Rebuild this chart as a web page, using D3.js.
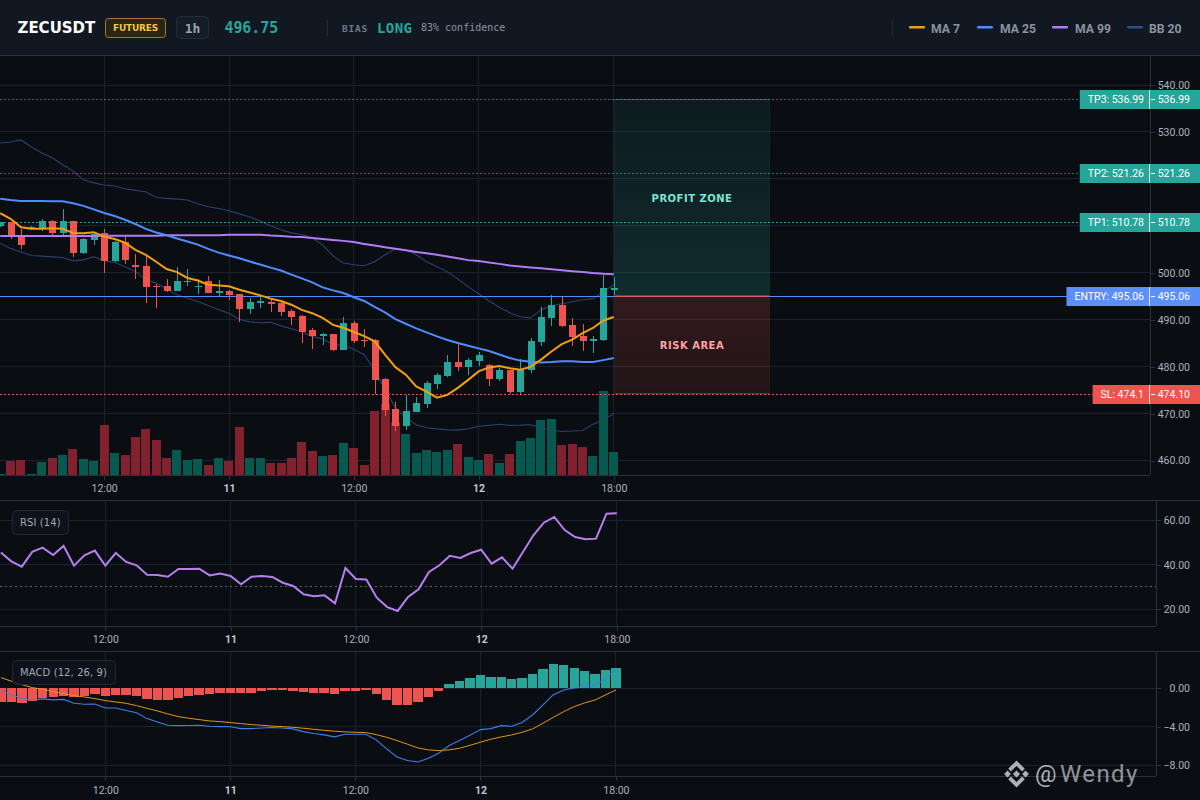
<!DOCTYPE html>
<html>
<head>
<meta charset="utf-8">
<script src="https://d3js.org/d3.v7.min.js"></script>
<style>
html,body{margin:0;padding:0;background:#0a0d12;overflow:hidden}
svg{display:block}
text{font-family:Roboto,sans-serif}
.mono{font-family:"DejaVu Sans Mono",monospace}
.dv{font-family:"DejaVu Sans",sans-serif}
</style>
</head>
<body>
<svg id="c" width="1200" height="800"></svg>
<script>
const symbol="ZECUSDT", badge="FUTURES", timeframe="1h", lastPrice="496.75";
const biasLabel="BIAS", biasValue="LONG", biasConf="83% confidence";
const legendNames=["MA 7","MA 25","MA 99","BB 20"];
const legendColors=["#f59e0b","#4f8cff","#b07cf5","#2d4f8e"];

const opens =[510.0,510.85,508.1,509.4,509.6,511.06,508.5,511.06,504.25,507.0,508.5,502.55,506.6,501.7,501.5,497.25,497.25,496.2,498.1,497.0,498.3,495.75,496.2,495.5,492.35,493.6,493.8,493.6,491.9,490.85,487.9,486.6,487.0,483.6,489.35,485.75,485.75,477.45,471.05,467.45,470.4,472.15,476.4,478.1,481.05,480.0,481.3,480.4,477.45,479.35,474.7,479.35,485.3,490.4,493.2,488.95,486.6,485.55,485.75,496.6];
const highs =[510.9,510.9,509.4,510.0,511.5,511.3,513.6,511.1,507.45,508.7,509.4,506.8,508.1,504.0,503.6,497.7,498.7,501.3,500.85,498.7,499.4,498.5,496.3,495.5,494.7,495.1,494.7,493.7,492.35,491.05,488.3,487.25,487.05,490.65,489.8,488.1,485.8,477.5,472.55,474.05,473.6,477.0,478.7,482.55,484.9,481.9,483.2,480.65,479.8,479.4,481.7,486.15,492.75,495.3,495.1,490.4,489.15,486.6,499.6,499.15];
const lows  =[509.8,507.2,505.1,509.15,508.9,508.1,508.1,503.4,504.0,506.0,500.0,502.3,501.9,498.7,493.6,492.55,496.0,496.15,497.2,495.5,495.75,495.1,494.25,489.6,491.3,492.55,491.7,490.85,488.95,485.1,483.8,484.7,483.4,483.6,485.1,484.25,474.25,469.6,466.2,466.6,470.4,471.3,475.3,477.9,479.15,478.3,480.2,475.95,477.0,474.25,474.25,478.7,484.45,488.7,488.5,484.45,483.4,483.0,485.55,495.3];
const closes=[510.85,508.1,506.0,509.8,511.06,508.5,511.06,504.25,507.2,508.3,502.55,506.6,502.75,501.3,497.0,497.0,496.2,498.3,498.3,497.2,495.75,496.2,495.3,492.35,493.8,494.05,493.4,491.7,490.65,487.45,486.6,487.0,483.6,489.35,485.55,485.55,477.2,470.85,467.45,470.65,472.35,476.6,478.3,481.05,480.0,481.5,482.55,477.45,479.35,474.7,479.35,485.55,490.65,493.2,488.7,486.4,485.55,486.0,496.8,496.75];
const volumes=[1.3,14.3,15.3,1.3,13.3,17.3,20.3,26.3,16.3,14.3,50.3,22.3,20.3,38.3,46.3,35.3,17.3,25.3,15.3,16.3,10.3,17.3,14.3,48.3,17.3,17.3,12.3,12.3,17.3,33.3,24.3,19.3,20.3,32.3,27.3,10.3,64.3,71.3,53.6,41.3,22.3,25.3,23.3,25.3,31.3,18.3,15.3,21.3,12.3,21.3,34.3,37.3,55.3,56.3,30.3,31.3,28.3,19.3,84.3,23.3];
const ma7 =[512.7,511.5,509.7,509.4,509.4,509.5,509.4,508.5,508.4,508.65,507.7,507.2,506.4,504.9,503.8,502.35,500.8,500.15,498.9,498.35,497.45,497.3,497.15,496.4,495.8,495.2,494.5,494.0,493.2,492.1,491.4,490.4,488.9,488.3,487.4,486.5,485.4,482.55,479.9,478.3,475.8,474.7,473.4,474.0,475.5,477.2,479.0,479.85,480.15,479.65,479.35,479.95,481.5,483.25,484.8,485.75,487.15,488.25,489.85,490.6];
const ma25=[515.75,515.5,515.3,515.3,515.3,515.25,515.25,514.8,514.25,513.5,512.75,512.1,511.3,510.4,509.35,508.6,508.0,507.3,506.65,506.0,505.1,504.3,503.7,503.1,502.4,501.75,501.1,500.5,499.6,498.8,497.95,496.9,496.25,495.7,494.8,494.0,492.75,491.55,490.15,489.15,488.15,487.3,486.45,485.7,485.05,484.45,483.9,483.35,482.6,481.85,481.3,481.05,480.9,481.0,481.15,481.15,481.0,481.0,481.4,481.85];
const ma99=[507.85,507.85,507.85,507.85,507.85,507.85,507.85,507.85,507.85,507.85,507.9,507.9,507.9,507.9,507.9,507.9,508.0,508.0,508.0,508.0,508.0,508.0,508.1,508.1,508.1,508.1,507.95,507.85,507.7,507.6,507.4,507.2,507.0,506.8,506.55,506.15,505.8,505.45,505.1,504.8,504.45,504.15,503.85,503.45,503.1,502.7,502.5,502.2,501.9,501.55,501.35,501.15,500.95,500.75,500.55,500.35,500.15,499.95,499.8,499.7];
const bbUpper=[527.66,527.87,528.3,526.8,525.5,524.5,523.0,521.7,519.8,519.15,518.7,518.5,517.9,517.55,517.25,516.05,515.85,515.7,515.5,514.7,514.05,513.7,513.2,512.55,511.9,511.05,510.0,509.15,508.5,508.1,507.45,505.95,503.6,502.1,501.7,501.5,502.35,503.85,505.1,504.9,503.85,502.35,501.3,500.2,498.7,497.0,495.55,494.05,492.65,491.5,490.65,490.4,492.15,493.0,493.4,493.85,494.25,494.45,495.95,497.45];
const bbLower=[506.3,505.2,504.45,503.7,503.55,503.4,503.25,502.55,502.75,503.4,502.6,502.2,501.3,500.3,498.5,497.8,496.6,495.3,494.6,493.9,493.05,492.15,491.4,490.1,489.55,489.35,489.45,488.7,488.1,487.45,486.4,485.95,484.7,484.55,483.7,482.55,479.35,475.1,471.3,469.15,467.65,467.0,466.75,466.55,466.5,466.8,467.3,467.5,467.75,467.5,467.55,467.65,467.0,466.5,466.2,466.3,466.4,467.75,468.7,470.0];
const rsiValues=[45.4,41.5,39.1,45.7,47.6,44.3,48.4,39.55,44.2,46.3,39.55,45.2,41.2,39.7,35.5,35.4,34.6,38.05,38.05,38.2,35.2,36.0,34.9,31.2,34.6,34.9,34.5,31.9,30.45,26.7,25.8,26.25,22.7,38.5,33.6,33.4,25.2,21.0,19.25,25.5,28.95,36.7,39.7,44.0,43.0,45.2,46.7,40.45,43.3,38.2,45.7,53.15,58.8,61.35,55.5,52.4,51.35,51.65,62.85,63.0];
const macdLine=[-0.17,-0.7,-1.04,-1.2,-1.1,-1.2,-1.15,-1.55,-1.66,-1.63,-2.04,-2.04,-2.3,-2.53,-3.15,-3.5,-3.84,-3.88,-3.86,-3.84,-3.94,-3.98,-4.0,-4.19,-4.19,-4.12,-4.08,-4.12,-4.22,-4.5,-4.7,-4.84,-5.05,-4.78,-4.78,-4.78,-5.36,-6.3,-7.13,-7.5,-7.65,-7.27,-6.75,-5.95,-5.43,-4.88,-4.29,-4.19,-3.88,-3.94,-3.56,-2.77,-1.73,-0.66,-0.17,0.03,0.14,0.24,1.07,1.9];
const macdSignal=[1.11,0.73,0.38,0.07,-0.1,-0.35,-0.55,-0.76,-0.9,-1.07,-1.28,-1.42,-1.56,-1.8,-2.08,-2.35,-2.66,-2.94,-3.11,-3.25,-3.39,-3.46,-3.56,-3.67,-3.77,-3.84,-3.93,-3.98,-4.05,-4.15,-4.26,-4.36,-4.46,-4.53,-4.57,-4.6,-4.81,-5.09,-5.43,-5.81,-6.19,-6.4,-6.47,-6.4,-6.23,-5.92,-5.6,-5.29,-5.05,-4.84,-4.57,-4.22,-3.63,-3.01,-2.42,-1.9,-1.52,-1.21,-0.69,-0.17];
const macdHist=[-1.38,-1.38,-1.52,-1.35,-1.04,-0.87,-0.76,-0.87,-0.8,-0.59,-0.8,-0.69,-0.69,-0.8,-1.1,-1.2,-1.2,-1.0,-0.8,-0.69,-0.59,-0.48,-0.48,-0.48,-0.48,-0.28,-0.17,-0.17,-0.28,-0.38,-0.48,-0.48,-0.59,-0.28,-0.28,-0.17,-0.59,-1.2,-1.73,-1.73,-1.42,-0.9,-0.28,0.45,0.76,1.07,1.38,1.18,1.18,0.97,1.07,1.49,2.0,2.53,2.42,2.11,1.8,1.49,1.9,2.11];

const timeTicks=[10,22,34,46,59];
const timeLabels=["12:00","11","12:00","12","18:00"];
const dayTicks=["11","12"];
const priceTicks=[460,470,480,490,500,510,520,530,540];
const priceTickLabels=[460,470,480,490,500,530,540];
const rsiTicks=[20,40,60], rsiLevel=30;
const macdTicks=[-8,-4,0];
const levelNames=["TP3: 536.99","TP2: 521.26","TP1: 510.78","ENTRY: 495.06","SL: 474.1"];
const levelPrices=[536.99,521.26,510.78,495.06,474.10];
const levelColors=["#26a69a","#26a69a","#26a69a","#5b8ff9","#ef5350"];
const entryPrice=495.06, tp3Price=536.99, slPrice=474.10;

const TEAL="#26a69a", RED="#ef5350", GRID="#1a222e", AXIS="#29313d", AXTXT="#aab2bd", BG="#0a0d12", AFS=10.5;
const svg=d3.select("#c");
const n=closes.length, idx=d3.range(n);

svg.append("rect").attr("width",1200).attr("height",800).attr("fill",BG);
const defs=svg.append("defs");
const g1=defs.append("linearGradient").attr("id","gp").attr("x1",0).attr("x2",0).attr("y1",0).attr("y2",1);
g1.append("stop").attr("offset",0).attr("stop-color",TEAL).attr("stop-opacity",.09);
g1.append("stop").attr("offset",1).attr("stop-color",TEAL).attr("stop-opacity",.2);
const g2=defs.append("linearGradient").attr("id","gr").attr("x1",0).attr("x2",0).attr("y1",0).attr("y2",1);
g2.append("stop").attr("offset",0).attr("stop-color",RED).attr("stop-opacity",.18);
g2.append("stop").attr("offset",1).attr("stop-color",RED).attr("stop-opacity",.1);
defs.append("clipPath").attr("id","cm").append("rect").attr("x",0).attr("y",56).attr("width",1150).attr("height",419);
defs.append("clipPath").attr("id","cr").append("rect").attr("x",0).attr("y",501).attr("width",1156).attr("height",125);
defs.append("clipPath").attr("id","cd").append("rect").attr("x",0).attr("y",652).attr("width",1156).attr("height",124);

// ---------- panes ----------
const xM=d3.scaleLinear().domain([0,59]).range([0.2,613.8]);
const xR=d3.scaleLinear().domain([0,59]).range([0.9,616.9]);
const xD=d3.scaleLinear().domain([0,59]).range([1.1,615.9]);
const yP=d3.scaleLinear().domain([460,540]).range([460.6,85]);
const yV=d3.scaleLinear().domain([0,100]).range([475.3,375.3]);
const yR=d3.scaleLinear().domain([20,60]).range([609.3,520]);
const yD=d3.scaleLinear().domain([-8,0]).range([765.3,688.3]);

function hline(g,y,x2){g.append("line").attr("x1",0).attr("x2",x2).attr("y1",y).attr("y2",y).attr("stroke",GRID).attr("shape-rendering","crispEdges");}
function vline(g,x,y1,y2){g.append("line").attr("x1",x).attr("x2",x).attr("y1",y1).attr("y2",y2).attr("stroke",GRID).attr("shape-rendering","crispEdges");}

const grid=svg.append("g");
priceTicks.forEach(t=>hline(grid,yP(t),1150));
timeTicks.forEach(t=>vline(grid,xM(t),56,475));
rsiTicks.forEach(t=>hline(grid,yR(t),1156));
timeTicks.forEach(t=>vline(grid,xR(t),501,626));
macdTicks.forEach(t=>hline(grid,yD(t),1156));
timeTicks.forEach(t=>vline(grid,xD(t),652,776));

// ---------- main pane ----------
const main=svg.append("g").attr("clip-path","url(#cm)");
main.selectAll(".v").data(idx).join("rect")
  .attr("x",i=>Math.round(xM(i)-4.5)).attr("width",9)
  .attr("y",i=>yV(volumes[i])).attr("height",i=>yV(0)-yV(volumes[i]))
  .attr("fill",i=>closes[i]>=opens[i]?"rgba(8,96,84,.93)":"rgba(140,36,48,.93)")
  .attr("shape-rendering","crispEdges");

const lineM=(a)=>d3.line().x((d,i)=>xM(i)).y(d=>yP(d))(a);
main.append("path").attr("d",lineM(bbUpper)).attr("fill","none").attr("stroke","#2a4270").attr("stroke-width",1.1);
main.append("path").attr("d",lineM(bbLower)).attr("fill","none").attr("stroke","#2a4270").attr("stroke-width",1.1);

// level lines
levelPrices.forEach((p,k)=>{
  const yy=Math.round(yP(p));
  if(k===3){
    main.append("rect").attr("x",0).attr("width",1150).attr("y",yy).attr("height",1).attr("fill","#4f8cff").attr("shape-rendering","crispEdges");
  } else {
    main.append("line").attr("x1",0).attr("x2",1150).attr("y1",yy+.5).attr("y2",yy+.5)
      .attr("stroke",levelColors[k]).attr("stroke-width",1)
      .attr("stroke-opacity",k<2?.7:1).attr("stroke-dasharray","2,2")
      .attr("shape-rendering","crispEdges");
  }
});

// candles
main.selectAll(".w").data(idx).join("line")
  .attr("x1",i=>Math.round(xM(i))+.5).attr("x2",i=>Math.round(xM(i))+.5)
  .attr("y1",i=>yP(highs[i])).attr("y2",i=>yP(lows[i]))
  .attr("stroke",i=>closes[i]>=opens[i]?TEAL:RED).attr("shape-rendering","crispEdges");
main.selectAll(".b").data(idx).join("rect")
  .attr("x",i=>Math.round(xM(i))-3).attr("width",7)
  .attr("y",i=>yP(Math.max(opens[i],closes[i])))
  .attr("height",i=>Math.max(1.5,Math.abs(yP(opens[i])-yP(closes[i]))))
  .attr("fill",i=>closes[i]>=opens[i]?TEAL:RED).attr("shape-rendering","crispEdges");

main.append("path").attr("d",lineM(ma99)).attr("fill","none").attr("stroke","#b07cf5").attr("stroke-width",2);
main.append("path").attr("d",lineM(ma25)).attr("fill","none").attr("stroke","#4f8cff").attr("stroke-width",2);
main.append("path").attr("d",lineM(ma7)).attr("fill","none").attr("stroke","#f59e0b").attr("stroke-width",2);

// zones
const zoneX1=xM(59)+.7, zoneX2=xM(59)+155.7;
const yTop=Math.round(yP(tp3Price))+.5, yEnt=Math.round(yP(entryPrice)), ySl=Math.round(yP(slPrice));
main.append("rect").attr("x",zoneX1).attr("width",zoneX2-zoneX1).attr("y",yTop).attr("height",yEnt-yTop).attr("fill","url(#gp)").attr("stroke","rgba(38,166,154,.13)");
main.append("rect").attr("x",zoneX1).attr("width",zoneX2-zoneX1).attr("y",yEnt).attr("height",ySl-yEnt).attr("fill","url(#gr)").attr("stroke","rgba(239,83,80,.10)");
main.append("line").attr("x1",zoneX1).attr("x2",zoneX2).attr("y1",yTop).attr("y2",yTop).attr("stroke",TEAL).attr("stroke-opacity",.5);
main.append("line").attr("x1",zoneX1).attr("x2",zoneX2).attr("y1",yEnt-.5).attr("y2",yEnt-.5).attr("stroke",TEAL).attr("stroke-opacity",.4);
main.append("line").attr("x1",zoneX1).attr("x2",zoneX2).attr("y1",yEnt+.5).attr("y2",yEnt+.5).attr("stroke",RED).attr("stroke-opacity",.85);
main.append("line").attr("x1",zoneX1).attr("x2",zoneX2).attr("y1",ySl-.5).attr("y2",ySl-.5).attr("stroke",RED).attr("stroke-opacity",.4);
main.append("text").attr("class","dv").attr("x",(zoneX1+zoneX2)/2).attr("y",198).attr("dy","0.35em").attr("text-anchor","middle")
  .attr("font-size",10).attr("font-weight",700).attr("letter-spacing",.5).attr("fill","#7fe3d8").text("PROFIT ZONE");
main.append("text").attr("class","dv").attr("x",(zoneX1+zoneX2)/2).attr("y",345).attr("dy","0.35em").attr("text-anchor","middle")
  .attr("font-size",10).attr("font-weight",700).attr("letter-spacing",.5).attr("fill","#ffa3a3").text("RISK AREA");

// ---------- RSI pane ----------
const rsiG=svg.append("g").attr("clip-path","url(#cr)");
rsiG.append("line").attr("x1",0).attr("x2",1156).attr("y1",yR(rsiLevel)).attr("y2",yR(rsiLevel)).attr("stroke","#5c6570").attr("stroke-dasharray","2,3").attr("shape-rendering","crispEdges");
rsiG.append("path").attr("d",d3.line().x((d,i)=>xR(i)).y(d=>yR(d))(rsiValues)).attr("fill","none").attr("stroke","#b57ff0").attr("stroke-width",2);

// ---------- MACD pane ----------
const macdG=svg.append("g").attr("clip-path","url(#cd)");
macdG.selectAll(".h").data(idx).join("rect")
  .attr("x",i=>xD(i)-4.7).attr("width",9.4)
  .attr("y",i=>Math.min(yD(0),yD(macdHist[i]))).attr("height",i=>Math.abs(yD(macdHist[i])-yD(0)))
  .attr("fill",i=>macdHist[i]>=0?TEAL:RED).attr("shape-rendering","crispEdges");
macdG.append("path").attr("d",d3.line().x((d,i)=>xD(i)).y(d=>yD(d))(macdSignal)).attr("fill","none").attr("stroke","#e0971a").attr("stroke-width",1);
macdG.append("path").attr("d",d3.line().x((d,i)=>xD(i)).y(d=>yD(d))(macdLine)).attr("fill","none").attr("stroke","#3f7fe8").attr("stroke-width",1.1);

// ---------- axes ----------
function styleAxis(g){
  g.selectAll("text").attr("fill",AXTXT).attr("font-size",AFS).attr("font-family","Roboto,sans-serif");
  g.selectAll("line").attr("stroke",AXIS).attr("shape-rendering","crispEdges");
  g.select(".domain").attr("stroke",AXIS).attr("shape-rendering","crispEdges");
}
function rightAxis(scale,ticks,x,y1,y2){
  const g=svg.append("g").attr("transform",`translate(${x},0)`)
    .call(d3.axisRight(scale).tickValues(ticks).tickFormat(d3.format(".2f")).tickSize(5).tickPadding(0).tickSizeOuter(0));
  g.select(".domain").attr("d",`M0.5,${y1}V${y2}`);
  g.selectAll("text").attr("x",1190-x).attr("text-anchor","end");
  styleAxis(g);
  return g;
}
rightAxis(yP,priceTickLabels,1150,56,475);
rightAxis(yR,rsiTicks,1156,501,626);
rightAxis(yD,macdTicks,1156,652,776);

function timeAxis(scale,y,x2,pad){
  const g=svg.append("g").attr("transform",`translate(0,${y})`)
    .call(d3.axisBottom(scale).tickValues(timeTicks).tickFormat((d,i)=>timeLabels[i]).tickSize(5).tickPadding(pad).tickSizeOuter(0));
  g.select(".domain").attr("d",`M0,0.5H${x2}`);
  styleAxis(g);
  g.selectAll("text").attr("font-weight",(d,i)=>dayTicks.includes(timeLabels[i])?700:400)
    .attr("fill",(d,i)=>dayTicks.includes(timeLabels[i])?"#c3c9d1":AXTXT);
}
timeAxis(xM,475,1150,5);
timeAxis(xR,625.5,1156,5);
timeAxis(xD,775.5,1156,6);
[500.5,651.5].forEach(y=>svg.append("line").attr("x1",0).attr("x2",1200).attr("y1",y).attr("y2",y).attr("stroke",AXIS).attr("shape-rendering","crispEdges"));

// ---------- level labels ----------
levelPrices.forEach((p,k)=>{
  const y=Math.round(yP(p));
  const box=svg.append("rect").attr("y",y-9).attr("height",19).attr("fill",levelColors[k]);
  const lab=svg.append("text").attr("x",1144).attr("y",y+.5).attr("dy","0.35em").attr("text-anchor","end").attr("font-size",AFS).attr("fill","#fff").text(levelNames[k]);
  const w=lab.node().getComputedTextLength();
  box.attr("x",1149-(w+13)).attr("width",w+13);
  svg.append("rect").attr("x",1150).attr("width",50).attr("y",y-9).attr("height",19).attr("fill",levelColors[k]);
  svg.append("rect").attr("x",1149).attr("width",1).attr("y",y-9).attr("height",19).attr("fill","#dfe6ea");
  svg.append("rect").attr("x",1151).attr("width",4).attr("y",y).attr("height",1).attr("fill","#fff");
  svg.append("text").attr("x",1190).attr("y",y+.5).attr("dy","0.35em").attr("text-anchor","end").attr("font-size",AFS).attr("fill","#fff").text(p.toFixed(2));
});

// ---------- pane tags ----------
[["RSI (14)",12,510,56],["MACD (12, 26, 9)",12,660,103]].forEach(([t,x,y,w])=>{
  svg.append("rect").attr("x",x+.5).attr("y",y+.5).attr("width",w).attr("height",24).attr("rx",4).attr("fill","rgba(15,20,28,.85)").attr("stroke","#1f2834");
  svg.append("text").attr("class","dv").attr("x",x+8).attr("y",y+12.5).attr("dy","0.35em").attr("font-size",10).attr("letter-spacing",.1).attr("fill","#a0a8b3").text(t);
});

// ---------- header ----------
const h=svg.append("g");
h.append("rect").attr("width",1200).attr("height",55).attr("fill","#111822");
h.append("line").attr("x1",0).attr("x2",1200).attr("y1",55.5).attr("y2",55.5).attr("stroke",AXIS);
h.append("text").attr("class","dv").attr("x",17.5).attr("y",28).attr("dy","0.35em").attr("font-size",15).attr("font-weight",700).attr("fill","#fff").text(symbol);
h.append("rect").attr("x",105.5).attr("y",18.5).attr("width",60).attr("height",19).attr("rx",3).attr("fill","#2a2415").attr("stroke","#a07c24");
h.append("text").attr("class","dv").attr("x",135.5).attr("y",28.3).attr("dy","0.35em").attr("text-anchor","middle").attr("font-size",9).attr("font-weight",700).attr("letter-spacing",-.2).attr("fill","#f5c542").text(badge);
h.append("rect").attr("x",176.5).attr("y",16.5).attr("width",32).attr("height",22).attr("rx",4).attr("fill","#141c28").attr("stroke","#232c39");
h.append("text").attr("class","mono").attr("x",192.5).attr("y",28).attr("dy","0.35em").attr("text-anchor","middle").attr("font-size",13).attr("font-weight",700).attr("fill","#9aa3b0").text(timeframe);
h.append("text").attr("class","mono").attr("x",224.5).attr("y",28).attr("dy","0.35em").attr("font-size",15).attr("font-weight",700).attr("fill",TEAL).attr("letter-spacing",-.1).text(lastPrice);
h.append("line").attr("x1",327.5).attr("x2",327.5).attr("y1",20).attr("y2",36).attr("stroke","#232c39");
h.append("text").attr("class","mono").attr("x",342).attr("y",28.5).attr("dy","0.35em").attr("font-size",9.5).attr("font-weight",700).attr("letter-spacing",.8).attr("fill","#6f7885").text(biasLabel);
h.append("text").attr("class","mono").attr("x",377).attr("y",28).attr("dy","0.35em").attr("font-size",14).attr("font-weight",700).attr("letter-spacing",.4).attr("fill",TEAL).text(biasValue);
h.append("text").attr("class","mono").attr("x",421).attr("y",27.5).attr("dy","0.35em").attr("font-size",10).attr("fill","#8a93a0").text(biasConf);
h.append("line").attr("x1",892.5).attr("x2",892.5).attr("y1",20).attr("y2",36).attr("stroke","#232c39");
const legendLineX=[909,977,1052,1127], legendTextX=[931,1000,1075,1149];
legendNames.forEach((t,k)=>{
  h.append("rect").attr("x",legendLineX[k]).attr("y",26).attr("width",16).attr("height",2.5).attr("rx",1).attr("fill",legendColors[k]);
  h.append("text").attr("x",legendTextX[k]).attr("y",28.5).attr("dy","0.35em").attr("font-size",12.2).attr("font-weight",700).attr("font-family","Inter,sans-serif").attr("fill","#8a93a0").text(t);
});

// ---------- watermark ----------
const wm=svg.append("g").attr("transform","translate(1016.5,774)").attr("fill","rgba(235,238,242,.72)");
wm.append("path").attr("d","M0,-3.6L3.6,0L0,3.6L-3.6,0Z M-9,-3.4L-5.6,0L-9,3.4L-12.4,0Z M9,-3.4L12.4,0L9,3.4L5.6,0Z M0,-13.5L8.3,-5.2L5.6,-2.5L0,-8.1L-5.6,-2.5L-8.3,-5.2Z M0,13.5L-8.3,5.2L-5.6,2.5L0,8.1L5.6,2.5L8.3,5.2Z");
svg.append("text").attr("x",1035).attr("y",774).attr("dy","0.35em").attr("font-size",24).attr("fill","rgba(235,238,242,.72)").attr("font-family","Inter,sans-serif").text("@");
svg.append("text").attr("x",1060).attr("y",774).attr("dy","0.35em").attr("font-size",24).attr("letter-spacing",1.4).attr("fill","rgba(235,238,242,.6)").attr("font-family","Inter,sans-serif").text("Wendy");
</script>
</body>
</html>
